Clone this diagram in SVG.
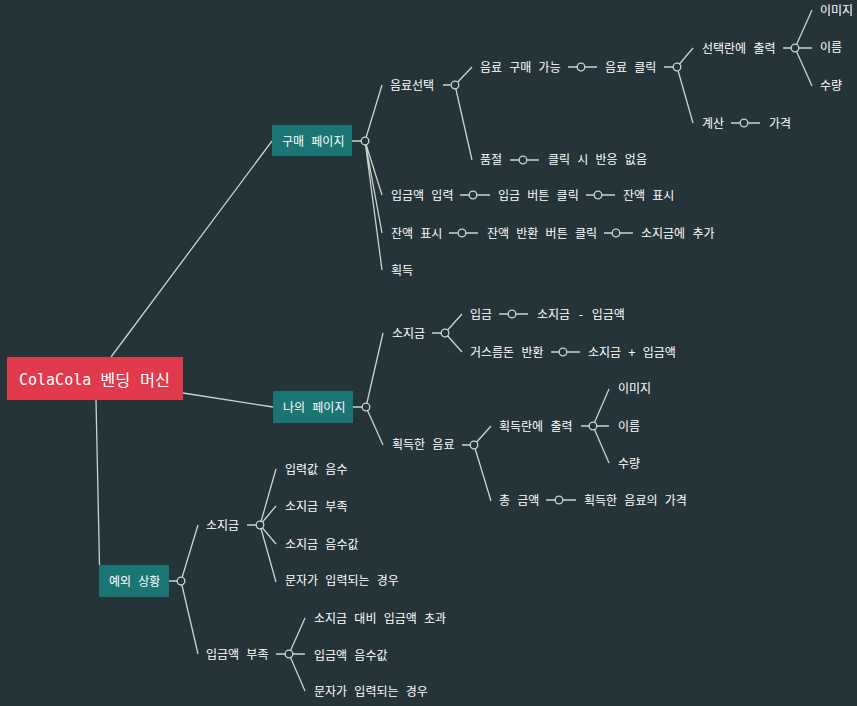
<svg xmlns="http://www.w3.org/2000/svg" width="857" height="706" viewBox="0 0 857 706">
<style>
.t{font-family:"DejaVu Sans Mono","Noto Sans CJK KR",monospace;font-size:12px;fill:#ffffff;dominant-baseline:central;white-space:pre}
.rt{font-family:"DejaVu Sans Mono","Noto Sans CJK KR",monospace;font-size:15px;fill:#ffffff;dominant-baseline:central;white-space:pre}
.k{font-size:16.3px}
.ln{stroke:#c9d5cd;stroke-width:1.3;fill:none}
.c{stroke:#c9d5cd;stroke-width:1.3;fill:#253439}
.root{fill:#e03a4c}
.sub{fill:#1b7573}
</style>
<rect width="857" height="706" fill="#253439"/>
<g id="connectors">
<path class="ln" d="M111,357 L272,141 M183,393 L273,407 M96,400 L99.5,565"/>
<path class="ln" d="M352,141 H365 M365,141 L382,85 M365,141 L382,195 M365,141 L382,233 M365,141 L382,270"/>
<path class="ln" d="M443,85 H455 L472,67 M455,85 L472,160"/>
<path class="ln" d="M568,67 H597 M664,67 H677 L693,48 M677,67 L693,123"/>
<path class="ln" d="M783,48 H812 M795,48 L812,10 M795,48 L812,86"/>
<path class="ln" d="M731,123 H760 M510,160 H539"/>
<path class="ln" d="M460,195 H490 M586,195 H615 M449,233 H478 M604,233 H633"/>
<path class="ln" d="M353,407 H366 L383,333 M366,407 L383,445"/>
<path class="ln" d="M432,333 H445 L462,314 M445,333 L462,352 M499,314 H528 M551,352 H580"/>
<path class="ln" d="M462,445 H474 L491,426 M474,445 L491,501 M581,426 H609 M593,426 L609,389 M593,426 L609,463 M546,500 H576"/>
<path class="ln" d="M169,581 H181 L198,525 M181,581 L198,654"/>
<path class="ln" d="M247,525 H260 L276,469 M260,525 L276,506 M260,525 L276,544 M260,525 L276,582"/>
<path class="ln" d="M276,654 H305 M289,654 L305,618 M289,654 L305,691"/>
<g>
<circle class="c" cx="365" cy="141" r="3.8"/>
<circle class="c" cx="455" cy="85" r="3.8"/>
<circle class="c" cx="581" cy="67" r="3.8"/>
<circle class="c" cx="677" cy="67" r="3.8"/>
<circle class="c" cx="795" cy="48" r="3.8"/>
<circle class="c" cx="744" cy="123" r="3.8"/>
<circle class="c" cx="523" cy="160" r="3.8"/>
<circle class="c" cx="473" cy="195" r="3.8"/>
<circle class="c" cx="598" cy="195" r="3.8"/>
<circle class="c" cx="462" cy="233" r="3.8"/>
<circle class="c" cx="616" cy="233" r="3.8"/>
<circle class="c" cx="366" cy="407" r="3.8"/>
<circle class="c" cx="445" cy="333" r="3.8"/>
<circle class="c" cx="512" cy="314" r="3.8"/>
<circle class="c" cx="563" cy="352" r="3.8"/>
<circle class="c" cx="474" cy="445" r="3.8"/>
<circle class="c" cx="593" cy="426" r="3.8"/>
<circle class="c" cx="559" cy="500" r="3.8"/>
<circle class="c" cx="181" cy="581" r="3.8"/>
<circle class="c" cx="260" cy="525" r="3.8"/>
<circle class="c" cx="289" cy="654" r="3.8"/>
</g>
</g>
<g id="n-root"><rect class="root" x="7" y="357" width="176" height="43"/><text class="rt" x="19" y="379.5">ColaCola <tspan class="k">벤딩 머신</tspan></text></g>
<g id="n-buy"><rect class="sub" x="272" y="125" width="80" height="31"/><text class="t" x="282" y="142">구매 페이지</text></g>
<g id="n-my"><rect class="sub" x="273" y="391" width="80" height="32"/><text class="t" x="283" y="408">나의 페이지</text></g>
<g id="n-exc"><rect class="sub" x="99" y="565" width="70" height="32"/><text class="t" x="109" y="582">예외 상황</text></g>

<g id="n-drink-select"><text class="t" x="390" y="86">음료선택</text></g>
<g id="n-can-buy"><text class="t" x="480" y="68">음료 구매 가능</text></g>
<g id="n-click"><text class="t" x="605" y="68">음료 클릭</text></g>
<g id="n-sel-out"><text class="t" x="702" y="49">선택란에 출력</text></g>
<g id="n-img1"><text class="t" x="820" y="11">이미지</text></g>
<g id="n-name1"><text class="t" x="820" y="48">이름</text></g>
<g id="n-qty1"><text class="t" x="820" y="86">수량</text></g>
<g id="n-calc"><text class="t" x="702" y="124">계산</text></g>
<g id="n-price"><text class="t" x="769" y="124">가격</text></g>
<g id="n-soldout"><text class="t" x="480" y="160">품절</text></g>
<g id="n-noresp"><text class="t" x="548" y="160">클릭 시 반응 없음</text></g>
<g id="n-input"><text class="t" x="391" y="196">입금액 입력</text></g>
<g id="n-depbtn"><text class="t" x="498" y="196">입금 버튼 클릭</text></g>
<g id="n-bal1"><text class="t" x="623" y="196">잔액 표시</text></g>
<g id="n-bal2"><text class="t" x="391" y="234">잔액 표시</text></g>
<g id="n-retbtn"><text class="t" x="487" y="234">잔액 반환 버튼 클릭</text></g>
<g id="n-addwallet"><text class="t" x="641" y="234">소지금에 추가</text></g>
<g id="n-get"><text class="t" x="391" y="271">획득</text></g>

<g id="n-wallet"><text class="t" x="392" y="334">소지금</text></g>
<g id="n-deposit"><text class="t" x="470" y="315">입금</text></g>
<g id="n-minus"><text class="t" x="537" y="315">소지금 - 입금액</text></g>
<g id="n-change"><text class="t" x="470" y="353">거스름돈 반환</text></g>
<g id="n-plus"><text class="t" x="588" y="353">소지금 + 입금액</text></g>
<g id="n-got"><text class="t" x="392" y="445">획득한 음료</text></g>
<g id="n-got-out"><text class="t" x="499" y="427">획득란에 출력</text></g>
<g id="n-img2"><text class="t" x="618" y="389">이미지</text></g>
<g id="n-name2"><text class="t" x="618" y="427">이름</text></g>
<g id="n-qty2"><text class="t" x="618" y="464">수량</text></g>
<g id="n-total"><text class="t" x="499" y="501">총 금액</text></g>
<g id="n-total-price"><text class="t" x="584" y="501">획득한 음료의 가격</text></g>

<g id="n-ex-wallet"><text class="t" x="206" y="526">소지금</text></g>
<g id="n-ex1"><text class="t" x="285" y="470">입력값 음수</text></g>
<g id="n-ex2"><text class="t" x="285" y="507">소지금 부족</text></g>
<g id="n-ex3"><text class="t" x="285" y="545">소지금 음수값</text></g>
<g id="n-ex4"><text class="t" x="285" y="581">문자가 입력되는 경우</text></g>
<g id="n-ex-dep"><text class="t" x="206" y="655">입금액 부족</text></g>
<g id="n-ex5"><text class="t" x="314" y="619">소지금 대비 입금액 초과</text></g>
<g id="n-ex6"><text class="t" x="314" y="656">입금액 음수값</text></g>
<g id="n-ex7"><text class="t" x="314" y="692">문자가 입력되는 경우</text></g>
</svg>
